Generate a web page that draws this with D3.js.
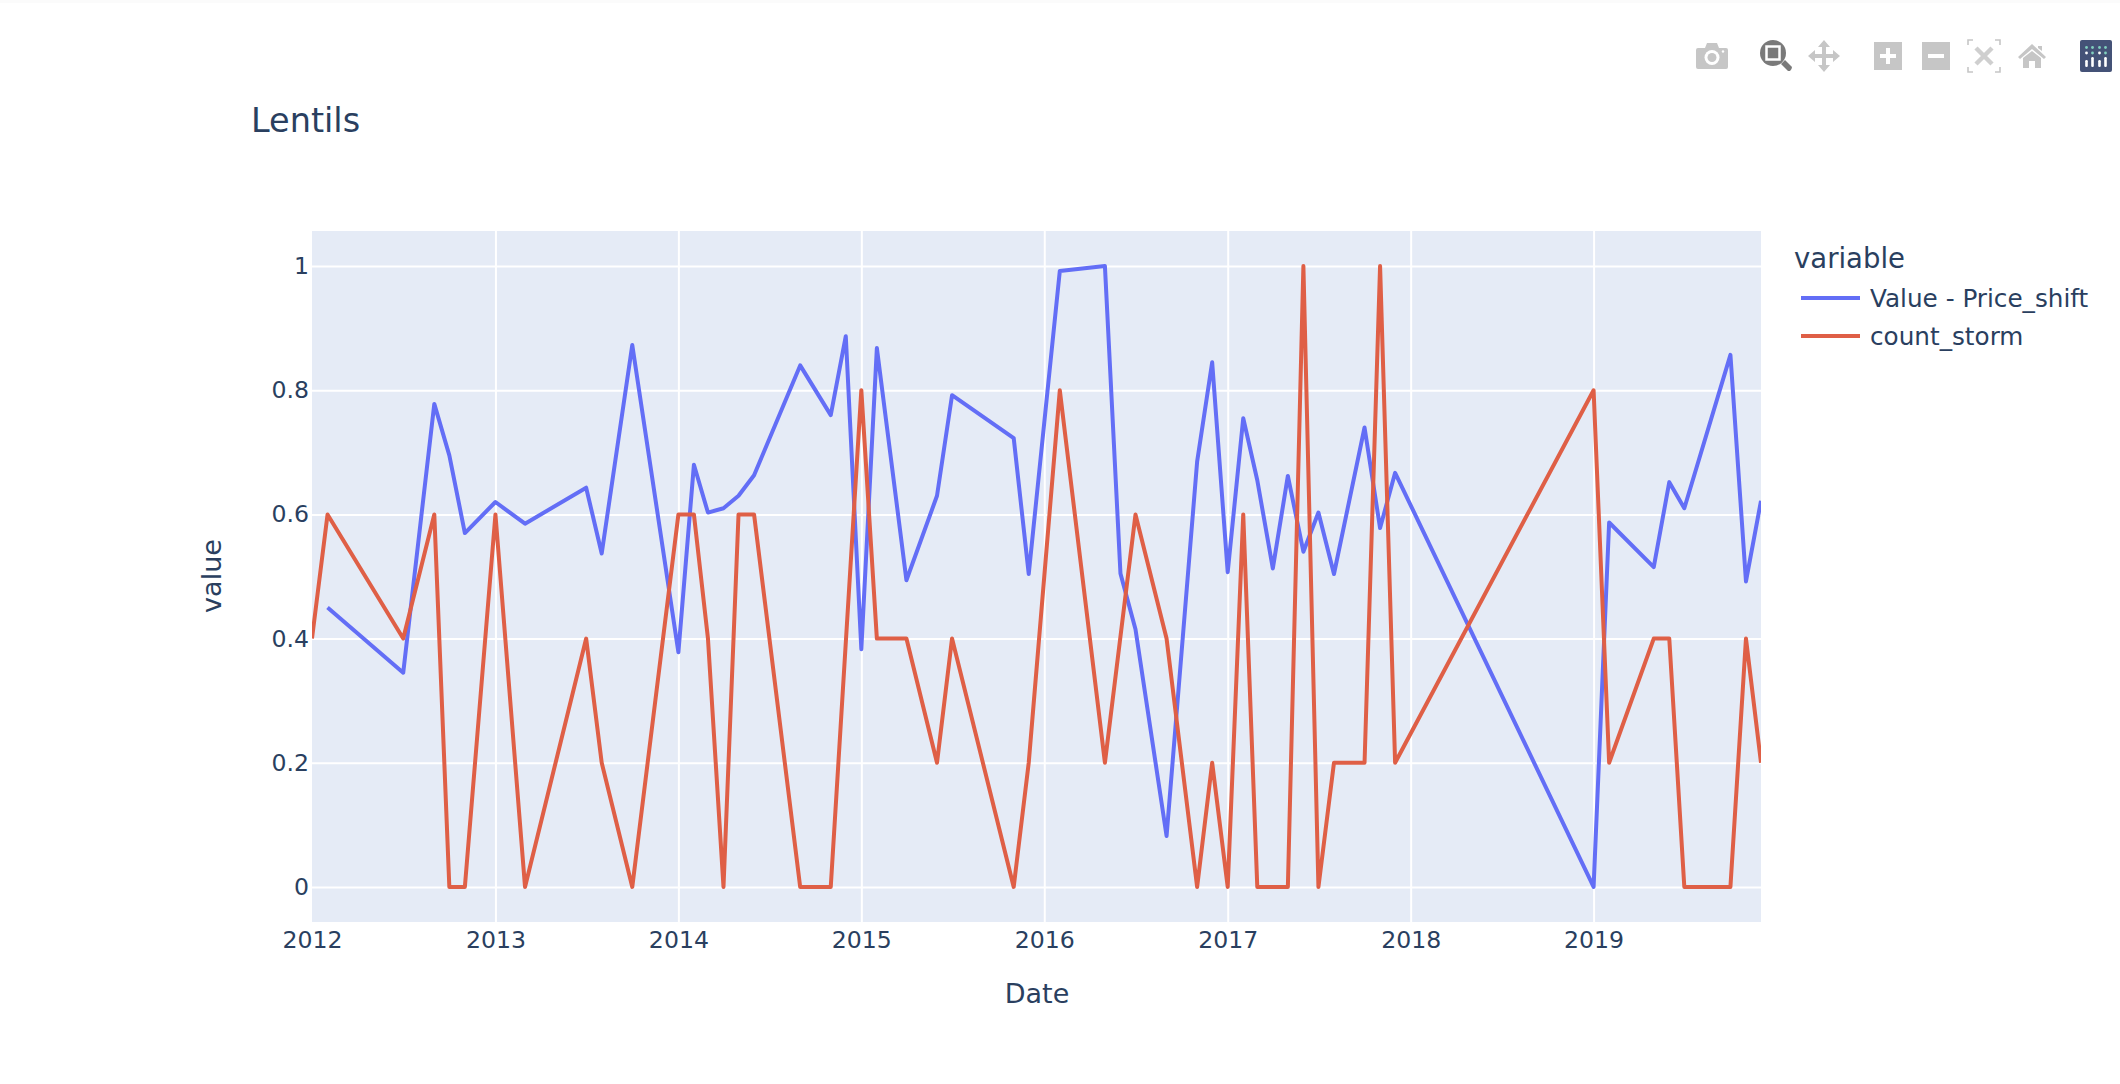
<!DOCTYPE html>
<html>
<head>
<meta charset="utf-8">
<title>Lentils</title>
<script src="https://cdn.jsdelivr.net/npm/d3@7"></script>
<style>
  html, body { margin: 0; padding: 0; background: #fff; }
  svg { display: block; }
  text { font-family: "DejaVu Sans", sans-serif; fill: #2a3f5f; }
</style>
</head>
<body>
<svg id="chart"></svg>
<script>
const priceDates = ['2012-02','2012-07','2012-09','2012-10','2012-11','2013-01','2013-03','2013-07','2013-08','2013-10',
  '2014-01','2014-02','2014-03','2014-04','2014-05','2014-06','2014-09','2014-11','2014-12','2015-01','2015-02','2015-04',
  '2015-06','2015-07','2015-11','2015-12','2016-02','2016-05','2016-06','2016-07','2016-09','2016-11','2016-12','2017-01',
  '2017-02','2017-03','2017-04','2017-05','2017-06','2017-07','2017-08','2017-10','2017-11','2017-12','2019-01','2019-02',
  '2019-05','2019-06','2019-07','2019-10','2019-11','2019-12'];
const priceValues = [0.45,0.345,0.778,0.695,0.57,0.62,0.585,0.643,0.537,0.873,
  0.378,0.68,0.603,0.61,0.63,0.663,0.84,0.76,0.887,0.383,0.868,0.494,
  0.63,0.792,0.723,0.504,0.992,1,0.505,0.415,0.082,0.685,0.845,0.507,
  0.755,0.655,0.513,0.662,0.54,0.603,0.504,0.74,0.578,0.667,0,0.587,
  0.515,0.652,0.61,0.857,0.492,0.622];

const stormDates = ['2012-01','2012-02','2012-07','2012-09','2012-10','2012-11','2013-01','2013-03','2013-07','2013-08','2013-10',
  '2014-01','2014-02','2014-03','2014-04','2014-05','2014-06','2014-09','2014-11','2015-01','2015-02','2015-04',
  '2015-06','2015-07','2015-11','2015-12','2016-02','2016-05','2016-07','2016-09','2016-11','2016-12','2017-01',
  '2017-02','2017-03','2017-05','2017-06','2017-07','2017-08','2017-10','2017-11','2017-12','2019-01','2019-02',
  '2019-05','2019-06','2019-07','2019-10','2019-11','2019-12'];
const stormValues = [0.4,0.6,0.4,0.6,0,0,0.6,0,0.4,0.2,0,
  0.6,0.6,0.4,0,0.6,0.6,0,0,0.8,0.4,0.4,
  0.2,0.4,0,0.2,0.8,0.2,0.6,0.4,0,0.2,0,
  0.6,0,0,1,0,0.2,0.2,1,0.2,0.8,0.2,
  0.4,0.4,0,0,0.4,0.2];

const yTicks = [0, 0.2, 0.4, 0.6, 0.8, 1];
const xTickYears = [2012, 2013, 2014, 2015, 2016, 2017, 2018, 2019];
const seriesNames = ['Value - Price_shift', 'count_storm'];
const seriesColors = ['#636ef6', '#df5f46'];

const width = 2120, height = 1084;
const plot = { left: 312, right: 1761, top: 231, bottom: 922 };
const parseMonth = d3.utcParse('%Y-%m');

const svg = d3.select('#chart').attr('width', width).attr('height', height);

const x = d3.scaleUtc()
  .domain([parseMonth('2012-01'), parseMonth('2019-12')])
  .range([plot.left, plot.right]);
const y = d3.scaleLinear()
  .domain([-0.0565, 1.0565])
  .range([plot.bottom, plot.top]);

svg.append('rect').attr('width', width).attr('height', 3).attr('fill', '#fbfbfb');

svg.append('rect')
  .attr('x', plot.left).attr('y', plot.top)
  .attr('width', plot.right - plot.left).attr('height', plot.bottom - plot.top)
  .attr('fill', '#e5ebf6');

svg.append('clipPath').attr('id', 'plot-clip').append('rect')
  .attr('x', plot.left).attr('y', plot.top)
  .attr('width', plot.right - plot.left).attr('height', plot.bottom - plot.top);

// axes, the tick lines double as the white grid
const xAxis = d3.axisBottom(x)
  .tickValues(xTickYears.map(yr => new Date(Date.UTC(yr, 0, 1))))
  .tickFormat(d3.utcFormat('%Y'))
  .tickSize(plot.bottom - plot.top)
  .tickPadding(9);
const yAxis = d3.axisLeft(y)
  .tickValues(yTicks)
  .tickFormat(d3.format('~g'))
  .tickSize(-(plot.right - plot.left))
  .tickPadding(3);

const gx = svg.append('g').attr('transform', `translate(0,${plot.top})`).call(xAxis);
const gy = svg.append('g').attr('transform', `translate(${plot.left},0)`).call(yAxis);
[gx, gy].forEach(g => {
  g.select('.domain').remove();
  g.selectAll('line').attr('stroke', '#fff').attr('stroke-width', 2);
  g.selectAll('text').style('font-size', '23.6px').attr('fill', '#2a3f5f');
});
gx.selectAll('.tick').filter((d, i) => i === 0).select('line').remove();

const line = d3.line().x(d => x(d.date)).y(d => y(d.value));
const toPoints = (dates, values) => dates.map((d, i) => ({ date: parseMonth(d), value: values[i] }));

const seriesData = [toPoints(priceDates, priceValues), toPoints(stormDates, stormValues)];
svg.append('g').attr('clip-path', 'url(#plot-clip)')
  .selectAll('path')
  .data(seriesData)
  .join('path')
  .attr('d', line)
  .attr('fill', 'none')
  .attr('stroke', (d, i) => seriesColors[i])
  .attr('stroke-width', 4)
  .attr('stroke-linejoin', 'round');

// titles
svg.append('text').attr('x', 251).attr('y', 132).style('font-size', '33.5px').text('Lentils');
svg.append('text').attr('x', 1037).attr('y', 1003).attr('text-anchor', 'middle').style('font-size', '27px').text('Date');
svg.append('text').attr('transform', 'translate(221,576) rotate(-90)').attr('text-anchor', 'middle').style('font-size', '27px').text('value');

// legend
svg.append('text').attr('x', 1794).attr('y', 268).style('font-size', '27.5px').text('variable');
const legend = svg.selectAll('.legend-item')
  .data(seriesNames)
  .join('g')
  .attr('class', 'legend-item')
  .attr('transform', (d, i) => `translate(0,${298 + i * 38})`);
legend.append('line')
  .attr('x1', 1801).attr('x2', 1860)
  .attr('stroke', (d, i) => seriesColors[i])
  .attr('stroke-width', 4);
legend.append('text').attr('x', 1870).attr('y', 9).style('font-size', '24.7px').text(d => d);

// modebar icons
const modebar = svg.append('g').attr('fill', '#c6c6c6');

const cam = modebar.append('g').attr('transform', 'translate(1696,43)');
cam.append('path').attr('d', 'M2,5 H9 L11,0 H21 L23,5 H30 Q32,5 32,7 V24 Q32,26 30,26 H2 Q0,26 0,24 V7 Q0,5 2,5 Z');
cam.append('circle').attr('cx', 16).attr('cy', 14.5).attr('r', 7.5).attr('fill', '#fff');
cam.append('circle').attr('cx', 16).attr('cy', 14.5).attr('r', 4.5);
cam.append('circle').attr('cx', 27).attr('cy', 8.5).attr('r', 1.2).attr('fill', '#fff');

const zoomIcon = modebar.append('g').attr('transform', 'translate(1760,40)').attr('fill', '#7a7a7a');
zoomIcon.append('circle').attr('cx', 13).attr('cy', 13).attr('r', 13);
zoomIcon.append('path').attr('d', 'M21,24 L25,20 L32,27 Q32,29 30,31 Q28,31 28,31 Z');
zoomIcon.append('rect').attr('x', 6.5).attr('y', 6.5).attr('width', 13).attr('height', 13)
  .attr('fill', 'none').attr('stroke', '#fff').attr('stroke-width', 2.5);

modebar.append('path').attr('transform', 'translate(1808,40)')
  .attr('d', 'M16,0 L22,7 H18 V14 H25 V10 L32,16 L25,22 V18 H18 V25 H22 L16,32 L10,25 H14 V18 H7 V22 L0,16 L7,10 V14 H14 V7 H10 Z');

const plus = modebar.append('g').attr('transform', 'translate(1874,42)');
plus.append('rect').attr('width', 28).attr('height', 28);
plus.append('path').attr('d', 'M12,6 H16 V12 H22 V16 H16 V22 H12 V16 H6 V12 H12 Z').attr('fill', '#fff');

const minus = modebar.append('g').attr('transform', 'translate(1922,42)');
minus.append('rect').attr('width', 28).attr('height', 28);
minus.append('rect').attr('x', 6).attr('y', 12).attr('width', 16).attr('height', 4).attr('fill', '#fff');

const scaleIcon = modebar.append('g').attr('transform', 'translate(1968,40)');
scaleIcon.append('path')
  .attr('d', 'M0,5 V0 H5 M27,0 H32 V5 M32,27 V32 H27 M5,32 H0 V27')
  .attr('fill', 'none').attr('stroke', '#c6c6c6').attr('stroke-width', 1.6);
scaleIcon.append('path')
  .attr('d', 'M8,8 L24,24 M24,8 L8,24')
  .attr('fill', 'none').attr('stroke', '#cfcfcf').attr('stroke-width', 4.5);

modebar.append('path').attr('transform', 'translate(2018,44)')
  .attr('d', 'M14,0 L28,13 L26,15 L14,5 L2,15 L0,13 Z M5,14 L14,7 L23,14 V24 H17 V17 H11 V24 H5 Z M20,2 H24 V7 L20,4 Z');

const logo = svg.append('g').attr('transform', 'translate(2080,40)');
logo.append('rect').attr('width', 32).attr('height', 32).attr('rx', 2).attr('fill', '#445277');
[6.5, 12.5, 19.5, 25.5].forEach((cx, i) => {
  const tall = i % 2 === 1;
  logo.append('rect').attr('x', cx - 1.3).attr('y', tall ? 17 : 20).attr('width', 2.6).attr('height', tall ? 10 : 7)
    .attr('rx', 1.2).attr('fill', '#fff');
  logo.append('circle').attr('cx', cx).attr('cy', 7.5).attr('r', 1.4).attr('fill', '#80cfbe');
  logo.append('circle').attr('cx', cx).attr('cy', 13).attr('r', 1.4).attr('fill', i % 2 ? '#80cfbe' : '#fff');
});
</script>
</body>
</html>
